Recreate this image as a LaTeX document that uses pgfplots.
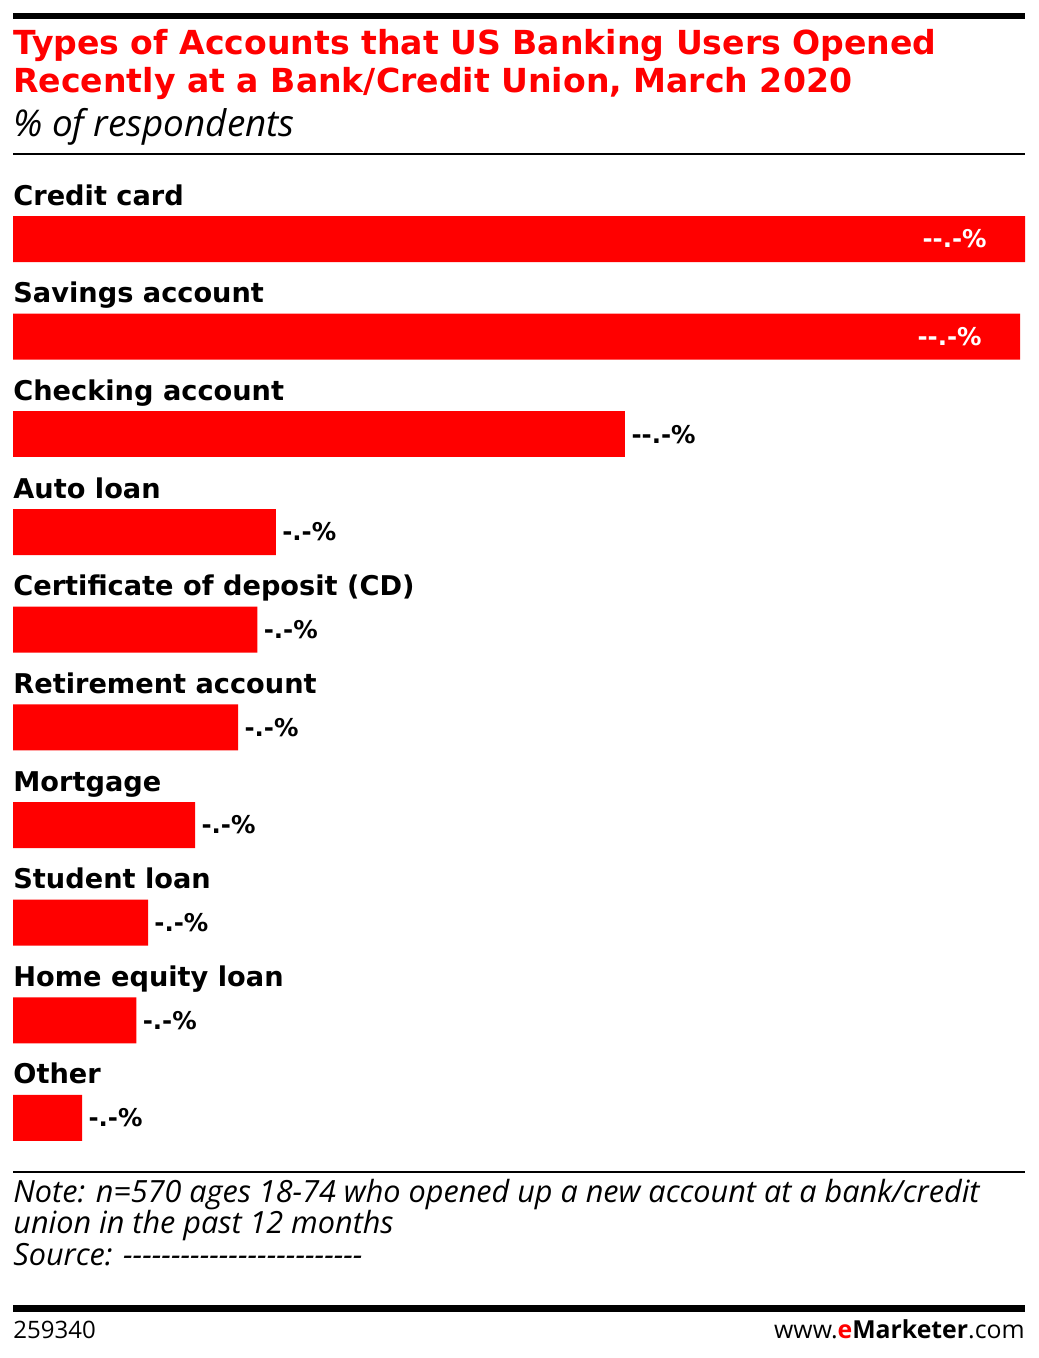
\documentclass[border=0pt]{standalone}
\usepackage{fontspec}
\usepackage{pgfplots}
\pgfplotsset{compat=1.18}

\newfontfamily\boldf[Ligatures=TeXOff]{DejaVu Sans Bold}
\newfontfamily\itf[Ligatures=TeXOff]{Open Sans Italic}
\newfontfamily\regf[Ligatures=TeXOff]{Open Sans}
\newfontfamily\regb[Ligatures=TeXOff]{Open Sans Bold}

\definecolor{emred}{RGB}{255,0,0}

% bar lengths (values are masked in the source)
\pgfplotstableread{
y val
1 41.0
2 40.8
}\insidebars
\pgfplotstableread{
y val
3 24.8
}\twodigit
\pgfplotstableread{
y val
4 10.65
5 9.9
6 9.12
7 7.38
8 5.47
9 5.0
10 2.8
}\onedigit

\begin{document}
\begin{tikzpicture}
\useasboundingbox (0,0) rectangle (519pt,-679pt);
\begin{scope}[x=0.5pt,y=-0.5pt]
  % rules
  \fill (13,13) rectangle (1025,19);
  \fill (13,153) rectangle (1025,155);
  \fill (13,1171) rectangle (1025,1173);
  \fill (13,1305) rectangle (1025,1312);
  % title
  \node[anchor=base west,inner sep=0,text=emred,font=\boldf\fontsize{16.55}{19}\selectfont] at (13,55) {Types of Accounts that US Banking Users Opened};
  \node[anchor=base west,inner sep=0,text=emred,font=\boldf\fontsize{16.55}{19}\selectfont] at (13,93) {Recently at a Bank/Credit Union, March 2020};
  \node[anchor=base west,inner sep=0,font=\itf\fontsize{18.4}{21}\selectfont] at (13,137) {\% of respondents};
  % note and source
  \node[anchor=base west,inner sep=0,font=\itf\fontsize{15.3}{17}\selectfont] at (13,1202) {Note: n=570 ages 18-74 who opened up a new account at a bank/credit};
  \node[anchor=base west,inner sep=0,font=\itf\fontsize{15.3}{17}\selectfont] at (13,1233) {union in the past 12 months};
  \node[anchor=base west,inner sep=0,font=\itf\fontsize{15.3}{17}\selectfont] at (13,1265) {Source: -------------------------};
  % footer
  \node[anchor=base west,inner sep=0,font=\regf\fontsize{12}{14}\selectfont] at (13,1338) {259340};
  \node[anchor=base east,inner sep=0,font=\regf\fontsize{12.4}{14}\selectfont] at (1025,1338) {www.{\regb\textcolor{emred}{e}Marketer}.com};
\end{scope}

\begin{axis}[
  at={(6.5pt,-95.1pt)}, anchor=north west,
  scale only axis, width=506pt, height=488.3pt,
  xmin=0, xmax=41.0, ymin=0.5, ymax=10.5, y dir=reverse,
  hide axis, clip=false,
  xbar, bar width=23pt, bar shift=0pt,
  every axis plot/.append style={fill=emred, draw=none},
  nodes near coords style={font=\boldf\fontsize{12.2}{14}\selectfont, inner sep=0pt},
]
  \addplot[nodes near coords={--.-\%}, nodes near coords style={anchor=east, text=white, xshift=-19pt}]
    table[x=val,y=y] {\insidebars};
  \addplot[nodes near coords={--.-\%}, nodes near coords style={anchor=west, xshift=3pt}]
    table[x=val,y=y] {\twodigit};
  \addplot[nodes near coords={-.-\%}, nodes near coords style={anchor=west, xshift=3pt}]
    table[x=val,y=y] {\onedigit};
  % category names above the bars
  \foreach \lab [count=\i] in {Credit card, Savings account, Checking account, Auto loan,
      Certificate of deposit (CD), Retirement account, Mortgage, Student loan,
      Home equity loan, Other} {
    \edef\tmp{\noexpand\node[anchor=base west, inner sep=0pt, yshift=17pt,
      font=\noexpand\boldf\noexpand\fontsize{13.6}{16}\noexpand\selectfont]
      at (axis cs:0,\i) {\lab};}
    \tmp
  }
\end{axis}
\end{tikzpicture}
\end{document}
